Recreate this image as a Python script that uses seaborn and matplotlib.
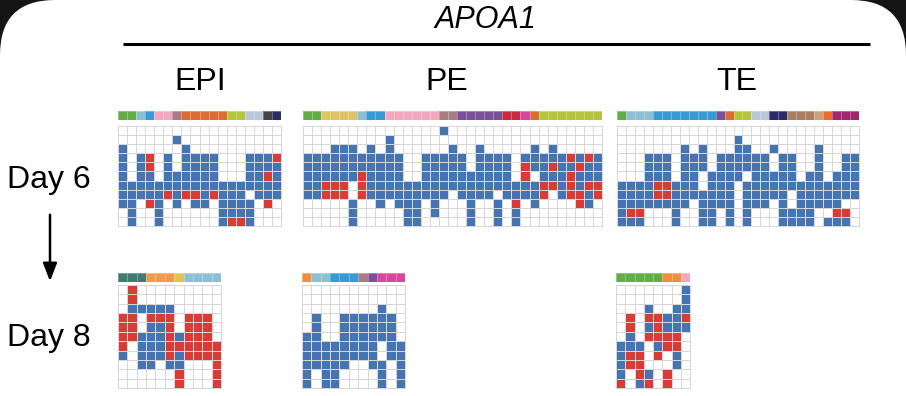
import numpy as np
import matplotlib
matplotlib.use("Agg")
import matplotlib.pyplot as plt
from matplotlib.colors import ListedColormap
from matplotlib.patches import FancyBboxPatch
import seaborn as sns

W, H = 906, 396
BLUE = "#4574b3"
RED = "#db3b35"
GRIDLINE = "#d6d6d6"

# lineage colours used in the annotation bars
lineage_colors = {
    "green": "#63ad46", "ltblue": "#8dbfd3", "blue": "#379ad4", "pink": "#f2a8bf",
    "mauve": "#a87b85", "orange": "#db6d33", "ygreen": "#b4c43c", "grayblue": "#b9c7d8",
    "dkgray": "#444444", "navy": "#2b2c68", "yellow": "#dfc465", "purple": "#7a4f9b",
    "red": "#c92c3c", "magenta": "#d7479b", "brown": "#a87f60", "tan": "#c9a27c",
    "orangered": "#ec6b2d", "plum": "#a2276e", "teal": "#3f7b6e", "ltorange": "#ef9a4c",
    "gold": "#e0c352", "orange2": "#ef8f3e",
}

# annotation bars: (lineage, number of cells)
epi6_bar = [("green", 2), ("ltblue", 1), ("blue", 1), ("pink", 2), ("mauve", 1),
            ("orange", 5), ("ygreen", 2), ("grayblue", 2), ("dkgray", 1), ("navy", 1)]
pe6_bar = [("green", 2), ("yellow", 4), ("ltblue", 1), ("blue", 2), ("pink", 6), ("mauve", 2),
           ("purple", 5), ("red", 2), ("magenta", 1), ("orange", 1), ("ygreen", 7)]
te6_bar = [("green", 1), ("ltblue", 3), ("blue", 7), ("purple", 1), ("orange", 1), ("ygreen", 2),
           ("grayblue", 2), ("navy", 2), ("brown", 3), ("tan", 1), ("orangered", 1), ("plum", 3)]
epi8_bar = [("teal", 3), ("ltorange", 3), ("gold", 1), ("ltblue", 4)]
pe8_bar = [("orange2", 1), ("ltblue", 2), ("blue", 3), ("mauve", 1), ("purple", 1), ("magenta", 3)]
te8_bar = [("green", 5), ("orange2", 2), ("pink", 1)]

# cell states per row: '.' none, 'B' blue, 'R' red
epi6_rows = [
    "..................",
    "......B...........",
    "B......B..........",
    "B.BR.B.BBBB...BBBR",
    "B.BR.B.BBBB...BBBB",
    "B.BB.BBBBBB...BBRB",
    "BBBBBBBBBBBBBBBBBB",
    "BBBBBRBRRBRBBB.BBB",
    "BB.RB.B.BB.BBBB.R.",
    ".B..B......BBBB...",
    ".B..B......BRRB...",
]
pe6_rows = [
    "...............B.................",
    ".........B.......................",
    "...BBB.B.B......B..B.....B.B.....",
    "BBBBBBBBBBB..BBBBB.BBBB.BBBBBRBRB",
    "BBBBBBBBBBB..BBBBB.BBBB.RBBRBBRBB",
    "BBBBBBRBBBB..BBBBBBBBBB.R.BBBRBBB",
    "BBRRR.RBBBBBBBBBBBBBBBBBBBRRBRBRR",
    "BBRRR.RBBBBBBBBB.BBBB.BBBBR.BRRBR",
    ".....B..B.BBB.B...B..B.R.B....RB.",
    ".....B.....BB.B...B..B.B.........",
    ".....B.....BB.....B..B.B.........",
]
te6_rows = [
    "...........................",
    ".............B.............",
    ".......B.B...BB..B....B....",
    "...BBB.BBB.BBBBBB.BB..B..BB",
    "...BBB.BBB.BBBBBB.BB..B..BB",
    "...BBB.BB.BBBB.BBBBB.BB.BBB",
    "BBBBRRBBB.BBB.BBBBBBBBBBBBB",
    "BBBBRRBBBBBBB.BBBBB.BBBBBBB",
    "BBBBBBBB.BBBB.BBB.B.BBBBB..",
    "BRR...B..BB.B.B...BBBB..RR.",
    "BBB...B..BB.B.B...BBBB.BBB.",
]
epi8_rows = [
    ".R.........",
    ".R.........",
    ".BBBBB.....",
    "RR.RRR.RRR.",
    "RR.BBR.RRR.",
    "RRBBBRBRRR.",
    "R.BBBRRRRRR",
    "B.BBBRBRRRR",
    "..BB.BB...R",
    "......R...R",
    "......R...R",
]
pe8_rows = [
    "...........",
    "...........",
    "........B..",
    ".B..BBBBBB.",
    ".B..BBBBBB.",
    "BB..BBBBBB.",
    "BBBBBBBB.BB",
    "BBBBBBBB.BB",
    "BBBBB..BB.B",
    "B.BB....B.B",
    "B.BB....B.B",
]
te8_rows = [
    ".......B",
    ".......B",
    "...B..BB",
    ".R.RRBBR",
    ".R.BRBBB",
    ".B.RRRR.",
    "BBB.BRR.",
    "BRR.R.B.",
    "BRR...B.",
    "B.RB.R..",
    "R.BR.R..",
]

state_code = {".": 0, "B": 1, "R": 2}
state_cmap = ListedColormap(["white", BLUE, RED])

sns.set_theme(style="white")
plt.rcParams["font.family"] = ["Liberation Sans", "DejaVu Sans"]
plt.rcParams["text.color"] = "black"

fig = plt.figure(figsize=(W / 100, H / 100), dpi=100, facecolor="#141414")

# background panel with rounded top corners
bg = fig.add_axes([0, 0, 1, 1])
bg.set_xlim(0, W)
bg.set_ylim(H, 0)
bg.set_axis_off()
bg.add_patch(FancyBboxPatch((0, 0), W, H + 200, boxstyle="round,pad=0,rounding_size=55",
                            facecolor="white", edgecolor="none"))


def px_axes(x0, y0, x1, y1):
    return fig.add_axes([x0 / W, 1 - y1 / H, (x1 - x0) / W, (y1 - y0) / H])


def draw_grid(rows, box):
    ax = px_axes(*box)
    arr = np.array([[state_code[c] for c in r] for r in rows])
    sns.heatmap(arr, ax=ax, cmap=state_cmap, vmin=0, vmax=2, cbar=False,
                linewidths=0.65, linecolor=GRIDLINE, xticklabels=False, yticklabels=False)
    ax.collections[0].set_clip_on(False)
    ax.set_axis_off()


def draw_bar(bar, box):
    ax = px_axes(*box)
    names = [n for n, k in bar for _ in range(k)]
    uniq = list(dict.fromkeys(names))
    arr = np.array([[uniq.index(n) for n in names]])
    sns.heatmap(arr, ax=ax, cmap=ListedColormap([lineage_colors[n] for n in uniq]),
                vmin=-0.5, vmax=len(uniq) - 0.5, cbar=False, linewidths=0.4,
                linecolor=(1, 1, 1, 0.3), xticklabels=False, yticklabels=False)
    ax.set_axis_off()


# day 6
draw_bar(epi6_bar, (118, 111, 281, 120))
draw_grid(epi6_rows, (118, 126, 281, 226))
draw_bar(pe6_bar, (303, 111, 602, 120))
draw_grid(pe6_rows, (303, 126, 602, 226))
draw_bar(te6_bar, (617, 111, 859, 120))
draw_grid(te6_rows, (617, 126, 859, 226))

# day 8
draw_bar(epi8_bar, (118, 273, 221, 282))
draw_grid(epi8_rows, (118, 285, 221, 388))
draw_bar(pe8_bar, (302, 273, 405, 282))
draw_grid(pe8_rows, (302, 285, 405, 388))
draw_bar(te8_bar, (616, 273, 690, 282))
draw_grid(te8_rows, (616, 285, 690, 388))

# labels
bg.text(485, 20, "APOA1", fontsize=22, style="italic", ha="center", va="center", color="black")
bg.plot([123, 870], [44, 44], color="black", lw=2.2, solid_capstyle="butt")
for x, lab in [(200, "EPI"), (447, "PE"), (737, "TE")]:
    bg.text(x, 82, lab, fontsize=23, ha="center", va="center", color="black")
bg.text(7, 180, "Day 6", fontsize=23, ha="left", va="center", color="black")
bg.text(7, 338, "Day 8", fontsize=23, ha="left", va="center", color="black")
bg.annotate("", xy=(50, 284), xytext=(50, 212),
            arrowprops=dict(arrowstyle="-|>,head_length=0.9,head_width=0.35", color="black", lw=1.8))

fig.savefig("out.png", dpi=100, facecolor=fig.get_facecolor())
